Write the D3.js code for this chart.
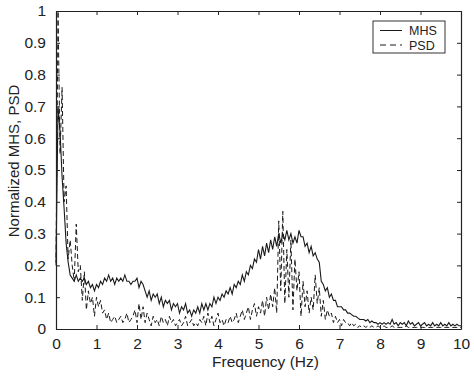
<!DOCTYPE html>
<html>
<head>
<meta charset="utf-8">
<script src="https://cdn.jsdelivr.net/npm/d3@7"></script>
<style>
  body { margin: 0; background: #fff; }
  text { font-family: "Liberation Sans", Arial, sans-serif; fill: #222; }
</style>
</head>
<body>
<div class="container"></div>
<script>
// sampled every 0.05 Hz from 0 to 10
const step = 0.05;

const mhs = [
  0.21, 0.70, 0.62, 0.48, 0.38, 0.27, 0.21, 0.17, 0.16, 0.15,
  0.17, 0.15, 0.16, 0.15, 0.16, 0.14, 0.15, 0.13, 0.14, 0.12,
  0.14, 0.13, 0.15, 0.14, 0.16, 0.15, 0.17, 0.15, 0.16, 0.14,
  0.16, 0.15, 0.16, 0.15, 0.17, 0.15, 0.15, 0.14, 0.15, 0.15,
  0.16, 0.13, 0.15, 0.14, 0.12, 0.10, 0.12, 0.09, 0.11, 0.10,
  0.11, 0.08, 0.10, 0.07, 0.09, 0.08, 0.09, 0.06, 0.08, 0.07,
  0.08, 0.05, 0.07, 0.06, 0.08, 0.05, 0.06, 0.04, 0.06, 0.05,
  0.07, 0.05, 0.08, 0.06, 0.08, 0.06, 0.08, 0.07, 0.10, 0.08,
  0.10, 0.09, 0.11, 0.10, 0.12, 0.11, 0.13, 0.11, 0.14, 0.13,
  0.15, 0.14, 0.17, 0.15, 0.18, 0.17, 0.20, 0.19, 0.22, 0.21,
  0.25, 0.22, 0.26, 0.23, 0.27, 0.24, 0.28, 0.25, 0.29, 0.26,
  0.30, 0.27, 0.30, 0.28, 0.31, 0.28, 0.30, 0.27, 0.29, 0.27,
  0.31, 0.29, 0.29, 0.26, 0.27, 0.24, 0.26, 0.23, 0.24, 0.22,
  0.21, 0.15, 0.14, 0.12, 0.13, 0.10, 0.11, 0.09, 0.09, 0.07,
  0.07, 0.07, 0.06, 0.06, 0.05, 0.05, 0.045, 0.04, 0.04, 0.035,
  0.03, 0.03, 0.03, 0.025, 0.03, 0.02, 0.025, 0.02, 0.02, 0.015,
  0.02, 0.015, 0.02, 0.015, 0.02, 0.015, 0.03, 0.015, 0.02, 0.01,
  0.02, 0.015, 0.02, 0.01, 0.025, 0.015, 0.02, 0.01, 0.015, 0.02,
  0.01, 0.015, 0.02, 0.01, 0.015, 0.01, 0.02, 0.01, 0.015, 0.01,
  0.02, 0.01, 0.015, 0.01, 0.02, 0.01, 0.015, 0.01, 0.015, 0.01,
  0.01
];

const psd = [
  0.20, 1.00, 0.55, 0.76, 0.40, 0.45, 0.22, 0.28, 0.20, 0.15,
  0.33, 0.18, 0.20, 0.09, 0.18, 0.06, 0.12, 0.08, 0.10, 0.04,
  0.10, 0.07, 0.09, 0.05, 0.06, 0.03, 0.05, 0.02, 0.03, 0.04,
  0.02, 0.03, 0.04, 0.02, 0.03, 0.05, 0.02, 0.03, 0.04, 0.06,
  0.02, 0.08, 0.03, 0.07, 0.02, 0.05, 0.03, 0.01, 0.04, 0.02,
  0.03, 0.01, 0.04, 0.02, 0.03, 0.01, 0.04, 0.02, 0.03, 0.01,
  0.02, 0.03, 0.01, 0.02, 0.04, 0.01, 0.02, 0.03, 0.01, 0.02,
  0.01, 0.03, 0.02, 0.04, 0.01, 0.05, 0.02, 0.04, 0.01, 0.03,
  0.05, 0.02, 0.03, 0.01, 0.03, 0.02, 0.04, 0.02, 0.03, 0.05,
  0.02, 0.04, 0.06, 0.03, 0.05, 0.07, 0.03, 0.06, 0.08, 0.04,
  0.07, 0.05, 0.09, 0.04, 0.10, 0.06, 0.11, 0.07, 0.13, 0.05,
  0.34, 0.12, 0.37, 0.08, 0.25, 0.10, 0.28, 0.06, 0.22, 0.12,
  0.18, 0.04, 0.15, 0.07, 0.12, 0.05, 0.10, 0.06, 0.17, 0.08,
  0.13, 0.04, 0.09, 0.03, 0.06, 0.04, 0.05, 0.02, 0.04, 0.02,
  0.03, 0.01, 0.03, 0.02, 0.02, 0.01, 0.02, 0.01, 0.015, 0.005,
  0.01, 0.005, 0.01, 0.005, 0.01, 0.005, 0.01, 0.005, 0.005, 0.01,
  0.005, 0.005, 0.01, 0.005, 0.005, 0.005, 0.01, 0.005, 0.005, 0.005,
  0.005, 0.005, 0.005, 0.01, 0.005, 0.005, 0.005, 0.005, 0.005, 0.005,
  0.005, 0.005, 0.005, 0.005, 0.005, 0.005, 0.005, 0.005, 0.005, 0.005,
  0.005, 0.005, 0.005, 0.005, 0.005, 0.005, 0.005, 0.005, 0.005, 0.005,
  0.005
];

const xTicks = [0, 1, 2, 3, 4, 5, 6, 7, 8, 9, 10];
const yTicks = [0, 0.1, 0.2, 0.3, 0.4, 0.5, 0.6, 0.7, 0.8, 0.9, 1];
const seriesNames = ['MHS', 'PSD'];

const w = 474,
    h = 379,
    pLeft = 56,
    pRight = 461,
    pTop = 11,
    pBottom = 329;

const svg = d3.select('.container')
  .append('svg')
  .attr('width', w)
  .attr('height', h);

const xScale = d3.scaleLinear().domain([0, 10]).range([pLeft, pRight]);
const yScale = d3.scaleLinear().domain([0, 1]).range([pBottom, pTop]);

const line = d3.line()
  .x((d, i) => xScale(i * step))
  .y(d => yScale(d));

const plot = svg.append('g');

plot.append('path')
  .datum(mhs)
  .attr('fill', 'none')
  .attr('stroke', '#1a1a1a')
  .attr('stroke-width', 1.1)
  .attr('d', line);

plot.append('path')
  .datum(psd)
  .attr('fill', 'none')
  .attr('stroke', '#1a1a1a')
  .attr('stroke-width', 1)
  .attr('stroke-dasharray', '5,3')
  .attr('d', line);

// axes, ticks pointing inward on all four sides
const fmt = d => d3.format('')(d);

svg.append('g')
  .attr('transform', `translate(0,${pBottom})`)
  .call(d3.axisBottom(xScale).tickValues(xTicks).tickSizeInner(-4).tickSizeOuter(0).tickPadding(9).tickFormat(fmt));

svg.append('g')
  .attr('transform', `translate(0,${pTop})`)
  .call(d3.axisTop(xScale).tickValues(xTicks).tickSizeInner(-4).tickSizeOuter(0).tickFormat(''));

svg.append('g')
  .attr('transform', `translate(${pLeft},0)`)
  .call(d3.axisLeft(yScale).tickValues(yTicks).tickSizeInner(-4).tickSizeOuter(0).tickPadding(10).tickFormat(fmt));

svg.append('g')
  .attr('transform', `translate(${pRight},0)`)
  .call(d3.axisRight(yScale).tickValues(yTicks).tickSizeInner(-4).tickSizeOuter(0).tickFormat(''));

svg.selectAll('.domain').attr('stroke', '#222').attr('stroke-width', 1.2);
svg.selectAll('.tick line').attr('stroke', '#222');
svg.selectAll('.tick text')
  .style('font-family', '"Liberation Sans", Arial, sans-serif')
  .style('font-size', '15.5px')
  .attr('fill', '#222');

svg.append('text')
  .attr('x', (pLeft + pRight) / 2 + 7)
  .attr('y', 367)
  .attr('text-anchor', 'middle')
  .style('font-size', '15.5px')
  .text('Frequency (Hz)');

svg.append('text')
  .attr('transform', `translate(19,${(pTop + pBottom) / 2 - 9}) rotate(-90)`)
  .attr('text-anchor', 'middle')
  .style('font-size', '15px')
  .text('Normalized MHS, PSD');

// legend
const legend = svg.append('g');
legend.append('rect')
  .attr('x', 373).attr('y', 21)
  .attr('width', 72).attr('height', 32)
  .attr('fill', '#fff')
  .attr('stroke', '#333')
  .attr('stroke-width', 1);

seriesNames.forEach((name, i) => {
  const y = 30.5 + i * 14.5;
  legend.append('line')
    .attr('x1', 380).attr('x2', 402)
    .attr('y1', y).attr('y2', y)
    .attr('stroke', '#1a1a1a')
    .attr('stroke-dasharray', i === 1 ? '6,4' : null);
  legend.append('text')
    .attr('x', 409)
    .attr('y', y + 4.5)
    .style('font-size', '12.5px')
    .text(name);
});
</script>
</body>
</html>
